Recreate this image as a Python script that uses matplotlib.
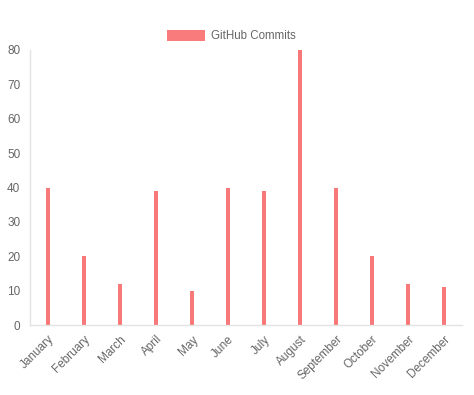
import matplotlib
matplotlib.use('Agg')
import matplotlib.pyplot as plt
import matplotlib.patches as mpatches

plt.rcParams['font.family'] = ['Liberation Sans', 'DejaVu Sans']

months = ['January', 'February', 'March', 'April', 'May', 'June',
          'July', 'August', 'September', 'October', 'November', 'December']
commits = [40, 20, 12, 39, 10, 40, 39, 80, 40, 20, 12, 11]

BAR_COLOR = '#f87979'
AXIS_COLOR = '#e3e3e3'
TEXT_COLOR = '#666666'

W, H = 474, 395
fig = plt.figure(figsize=(W / 100, H / 100), dpi=100, facecolor='white')
ax = fig.add_axes([30 / W, (H - 325) / H, 432 / W, 275 / H])

x = list(range(len(months)))
ax.bar(x, commits, width=0.11, color=BAR_COLOR, zorder=2)

ax.set_xlim(-0.5, len(months) - 0.5)
ax.set_ylim(0, 80)
ax.set_yticks(range(0, 81, 10))
ax.set_xticks(x)
ax.set_xticklabels(months, rotation=45, ha='right', rotation_mode='anchor')

for s in ['top', 'right']:
    ax.spines[s].set_visible(False)
for s in ['left', 'bottom']:
    ax.spines[s].set_color(AXIS_COLOR)
    ax.spines[s].set_linewidth(1)

ax.tick_params(axis='both', length=0, colors=TEXT_COLOR, labelsize=8.5)
ax.tick_params(axis='y', pad=7)
ax.tick_params(axis='x', pad=6)

handle = mpatches.Patch(facecolor='#fa7b7b', edgecolor='none', label='GitHub Commits')
fig.legend(handles=[handle], loc='center', bbox_to_anchor=(231 / W, (H - 36) / H),
           frameon=False, fontsize=8.3, labelcolor=TEXT_COLOR,
           handlelength=3.3, handleheight=1.1, handletextpad=0.5)

fig.savefig('out.png', dpi=100, facecolor='white')
